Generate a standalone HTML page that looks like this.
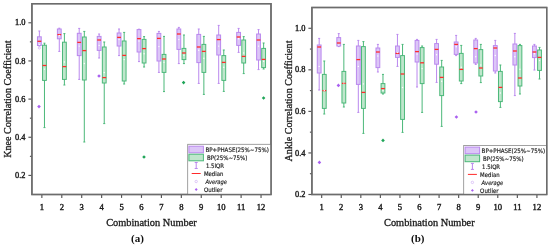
<!DOCTYPE html>
<html><head><meta charset="utf-8"><style>
html,body{margin:0;padding:0;background:#fff;}
svg{display:block;}
.tl{font-family:"Liberation Serif",serif;font-size:8.6px;fill:#1a1a1a;stroke:#1a1a1a;stroke-width:0.4px;}
.ti{font-family:"Liberation Serif",serif;font-size:10.1px;fill:#1a1a1a;stroke:#1a1a1a;stroke-width:0.3px;}
.sub{font-family:"Liberation Serif",serif;font-size:11px;font-weight:bold;fill:#111;}
.lg{font-family:"DejaVu Sans Condensed","DejaVu Sans",sans-serif;font-size:6.1px;fill:#222;stroke:#222;stroke-width:0.16px;}
</style></head><body>
<svg width="550" height="247" viewBox="0 0 550 247">
<rect width="550" height="247" fill="#fff"/>
<line x1="39.36" y1="31" x2="39.36" y2="46" stroke="#ba88ee" stroke-width="1"/>
<line x1="38.36" y1="31" x2="40.36" y2="31" stroke="#ba88ee" stroke-width="1"/>
<line x1="38.36" y1="46" x2="40.36" y2="46" stroke="#ba88ee" stroke-width="1"/>
<rect x="37.46" y="36.8" width="3.8" height="8.7" fill="#dcc6f7" stroke="#ba88ee" stroke-width="1"/>
<line x1="37.46" y1="41.3" x2="41.26" y2="41.3" stroke="#ff2a2a" stroke-width="1.3"/>
<circle cx="39.36" cy="44.6" r="0.7" fill="#fff"/>
<line x1="44.46" y1="43.2" x2="44.46" y2="127.6" stroke="#4bb879" stroke-width="1"/>
<line x1="43.46" y1="43.2" x2="45.46" y2="43.2" stroke="#4bb879" stroke-width="1"/>
<line x1="43.46" y1="127.6" x2="45.46" y2="127.6" stroke="#4bb879" stroke-width="1"/>
<rect x="42.56" y="45.2" width="3.8" height="35.2" fill="#bfe6cc" stroke="#4bb879" stroke-width="1"/>
<line x1="42.56" y1="65.5" x2="46.36" y2="65.5" stroke="#ff2a2a" stroke-width="1.3"/>
<circle cx="44.46" cy="69.1" r="0.7" fill="#fff"/>
<line x1="59.29" y1="28.2" x2="59.29" y2="51.4" stroke="#ba88ee" stroke-width="1"/>
<line x1="58.29" y1="28.2" x2="60.29" y2="28.2" stroke="#ba88ee" stroke-width="1"/>
<line x1="58.29" y1="51.4" x2="60.29" y2="51.4" stroke="#ba88ee" stroke-width="1"/>
<rect x="57.39" y="29" width="3.8" height="9.8" fill="#dcc6f7" stroke="#ba88ee" stroke-width="1"/>
<line x1="57.39" y1="34.6" x2="61.19" y2="34.6" stroke="#ff2a2a" stroke-width="1.3"/>
<circle cx="59.29" cy="35.5" r="0.7" fill="#fff"/>
<line x1="64.39" y1="33.6" x2="64.39" y2="85" stroke="#4bb879" stroke-width="1"/>
<line x1="63.39" y1="33.6" x2="65.39" y2="33.6" stroke="#4bb879" stroke-width="1"/>
<line x1="63.39" y1="85" x2="65.39" y2="85" stroke="#4bb879" stroke-width="1"/>
<rect x="62.49" y="42.2" width="3.8" height="37.2" fill="#bfe6cc" stroke="#4bb879" stroke-width="1"/>
<line x1="62.49" y1="66.6" x2="66.29" y2="66.6" stroke="#ff2a2a" stroke-width="1.3"/>
<circle cx="64.39" cy="62" r="0.7" fill="#fff"/>
<line x1="79.21" y1="28.4" x2="79.21" y2="79.4" stroke="#ba88ee" stroke-width="1"/>
<line x1="78.21" y1="28.4" x2="80.21" y2="28.4" stroke="#ba88ee" stroke-width="1"/>
<line x1="78.21" y1="79.4" x2="80.21" y2="79.4" stroke="#ba88ee" stroke-width="1"/>
<rect x="77.31" y="33.3" width="3.8" height="22.3" fill="#dcc6f7" stroke="#ba88ee" stroke-width="1"/>
<line x1="77.31" y1="42.4" x2="81.11" y2="42.4" stroke="#ff2a2a" stroke-width="1.3"/>
<circle cx="79.21" cy="46.1" r="0.7" fill="#fff"/>
<line x1="84.31" y1="31.4" x2="84.31" y2="142" stroke="#4bb879" stroke-width="1"/>
<line x1="83.31" y1="31.4" x2="85.31" y2="31.4" stroke="#4bb879" stroke-width="1"/>
<line x1="83.31" y1="142" x2="85.31" y2="142" stroke="#4bb879" stroke-width="1"/>
<rect x="82.41" y="37" width="3.8" height="43" fill="#bfe6cc" stroke="#4bb879" stroke-width="1"/>
<line x1="82.41" y1="50.6" x2="86.21" y2="50.6" stroke="#ff2a2a" stroke-width="1.3"/>
<circle cx="84.31" cy="63.5" r="0.7" fill="#fff"/>
<line x1="99.14" y1="34" x2="99.14" y2="58" stroke="#ba88ee" stroke-width="1"/>
<line x1="98.14" y1="34" x2="100.14" y2="34" stroke="#ba88ee" stroke-width="1"/>
<line x1="98.14" y1="58" x2="100.14" y2="58" stroke="#ba88ee" stroke-width="1"/>
<rect x="97.24" y="36.4" width="3.8" height="14" fill="#dcc6f7" stroke="#ba88ee" stroke-width="1"/>
<line x1="97.24" y1="40" x2="101.04" y2="40" stroke="#ff2a2a" stroke-width="1.3"/>
<circle cx="99.14" cy="45.4" r="0.7" fill="#fff"/>
<line x1="104.24" y1="42" x2="104.24" y2="123.6" stroke="#4bb879" stroke-width="1"/>
<line x1="103.24" y1="42" x2="105.24" y2="42" stroke="#4bb879" stroke-width="1"/>
<line x1="103.24" y1="123.6" x2="105.24" y2="123.6" stroke="#4bb879" stroke-width="1"/>
<rect x="102.34" y="47" width="3.8" height="36" fill="#bfe6cc" stroke="#4bb879" stroke-width="1"/>
<line x1="102.34" y1="77.6" x2="106.14" y2="77.6" stroke="#ff2a2a" stroke-width="1.3"/>
<circle cx="104.24" cy="72.5" r="0.7" fill="#fff"/>
<line x1="119.06" y1="29" x2="119.06" y2="55.6" stroke="#ba88ee" stroke-width="1"/>
<line x1="118.06" y1="29" x2="120.06" y2="29" stroke="#ba88ee" stroke-width="1"/>
<line x1="118.06" y1="55.6" x2="120.06" y2="55.6" stroke="#ba88ee" stroke-width="1"/>
<rect x="117.16" y="33" width="3.8" height="13" fill="#dcc6f7" stroke="#ba88ee" stroke-width="1"/>
<line x1="117.16" y1="37.4" x2="120.96" y2="37.4" stroke="#ff2a2a" stroke-width="1.3"/>
<circle cx="119.06" cy="39.6" r="0.7" fill="#fff"/>
<line x1="124.16" y1="32.4" x2="124.16" y2="84" stroke="#4bb879" stroke-width="1"/>
<line x1="123.16" y1="32.4" x2="125.16" y2="32.4" stroke="#4bb879" stroke-width="1"/>
<line x1="123.16" y1="84" x2="125.16" y2="84" stroke="#4bb879" stroke-width="1"/>
<rect x="122.26" y="41" width="3.8" height="40" fill="#bfe6cc" stroke="#4bb879" stroke-width="1"/>
<line x1="122.26" y1="55.4" x2="126.06" y2="55.4" stroke="#ff2a2a" stroke-width="1.3"/>
<circle cx="124.16" cy="59.6" r="0.7" fill="#fff"/>
<line x1="138.99" y1="29.2" x2="138.99" y2="61.6" stroke="#ba88ee" stroke-width="1"/>
<line x1="137.99" y1="29.2" x2="139.99" y2="29.2" stroke="#ba88ee" stroke-width="1"/>
<line x1="137.99" y1="61.6" x2="139.99" y2="61.6" stroke="#ba88ee" stroke-width="1"/>
<rect x="137.09" y="29.6" width="3.8" height="22.4" fill="#dcc6f7" stroke="#ba88ee" stroke-width="1"/>
<line x1="137.09" y1="38.6" x2="140.89" y2="38.6" stroke="#ff2a2a" stroke-width="1.3"/>
<circle cx="138.99" cy="41" r="0.7" fill="#fff"/>
<line x1="144.09" y1="36.6" x2="144.09" y2="67" stroke="#4bb879" stroke-width="1"/>
<line x1="143.09" y1="36.6" x2="145.09" y2="36.6" stroke="#4bb879" stroke-width="1"/>
<line x1="143.09" y1="67" x2="145.09" y2="67" stroke="#4bb879" stroke-width="1"/>
<rect x="142.19" y="39.4" width="3.8" height="23.6" fill="#bfe6cc" stroke="#4bb879" stroke-width="1"/>
<line x1="142.19" y1="48.6" x2="145.99" y2="48.6" stroke="#ff2a2a" stroke-width="1.3"/>
<circle cx="144.09" cy="53.7" r="0.7" fill="#fff"/>
<line x1="158.91" y1="31.4" x2="158.91" y2="72.4" stroke="#ba88ee" stroke-width="1"/>
<line x1="157.91" y1="31.4" x2="159.91" y2="31.4" stroke="#ba88ee" stroke-width="1"/>
<line x1="157.91" y1="72.4" x2="159.91" y2="72.4" stroke="#ba88ee" stroke-width="1"/>
<rect x="157.01" y="33.4" width="3.8" height="27.6" fill="#dcc6f7" stroke="#ba88ee" stroke-width="1"/>
<line x1="157.01" y1="38.4" x2="160.81" y2="38.4" stroke="#ff2a2a" stroke-width="1.3"/>
<circle cx="158.91" cy="46.6" r="0.7" fill="#fff"/>
<line x1="164.01" y1="36.4" x2="164.01" y2="91.6" stroke="#4bb879" stroke-width="1"/>
<line x1="163.01" y1="36.4" x2="165.01" y2="36.4" stroke="#4bb879" stroke-width="1"/>
<line x1="163.01" y1="91.6" x2="165.01" y2="91.6" stroke="#4bb879" stroke-width="1"/>
<rect x="162.11" y="54.4" width="3.8" height="18" fill="#bfe6cc" stroke="#4bb879" stroke-width="1"/>
<line x1="162.11" y1="59" x2="165.91" y2="59" stroke="#ff2a2a" stroke-width="1.3"/>
<circle cx="164.01" cy="62.2" r="0.7" fill="#fff"/>
<line x1="178.84" y1="27.4" x2="178.84" y2="63.6" stroke="#ba88ee" stroke-width="1"/>
<line x1="177.84" y1="27.4" x2="179.84" y2="27.4" stroke="#ba88ee" stroke-width="1"/>
<line x1="177.84" y1="63.6" x2="179.84" y2="63.6" stroke="#ba88ee" stroke-width="1"/>
<rect x="176.94" y="29" width="3.8" height="20.4" fill="#dcc6f7" stroke="#ba88ee" stroke-width="1"/>
<line x1="176.94" y1="34" x2="180.74" y2="34" stroke="#ff2a2a" stroke-width="1.3"/>
<circle cx="178.84" cy="39.6" r="0.7" fill="#fff"/>
<line x1="183.94" y1="35" x2="183.94" y2="63.6" stroke="#4bb879" stroke-width="1"/>
<line x1="182.94" y1="35" x2="184.94" y2="35" stroke="#4bb879" stroke-width="1"/>
<line x1="182.94" y1="63.6" x2="184.94" y2="63.6" stroke="#4bb879" stroke-width="1"/>
<rect x="182.04" y="48.4" width="3.8" height="11.2" fill="#bfe6cc" stroke="#4bb879" stroke-width="1"/>
<line x1="182.04" y1="53" x2="185.84" y2="53" stroke="#ff2a2a" stroke-width="1.3"/>
<circle cx="183.94" cy="55.2" r="0.7" fill="#fff"/>
<line x1="198.76" y1="29" x2="198.76" y2="83.4" stroke="#ba88ee" stroke-width="1"/>
<line x1="197.76" y1="29" x2="199.76" y2="29" stroke="#ba88ee" stroke-width="1"/>
<line x1="197.76" y1="83.4" x2="199.76" y2="83.4" stroke="#ba88ee" stroke-width="1"/>
<rect x="196.86" y="34.4" width="3.8" height="28.2" fill="#dcc6f7" stroke="#ba88ee" stroke-width="1"/>
<line x1="196.86" y1="47" x2="200.66" y2="47" stroke="#ff2a2a" stroke-width="1.3"/>
<circle cx="198.76" cy="50.3" r="0.7" fill="#fff"/>
<line x1="203.86" y1="36.4" x2="203.86" y2="94.4" stroke="#4bb879" stroke-width="1"/>
<line x1="202.86" y1="36.4" x2="204.86" y2="36.4" stroke="#4bb879" stroke-width="1"/>
<line x1="202.86" y1="94.4" x2="204.86" y2="94.4" stroke="#4bb879" stroke-width="1"/>
<rect x="201.96" y="44.4" width="3.8" height="28" fill="#bfe6cc" stroke="#4bb879" stroke-width="1"/>
<line x1="201.96" y1="51.4" x2="205.76" y2="51.4" stroke="#ff2a2a" stroke-width="1.3"/>
<circle cx="203.86" cy="58.3" r="0.7" fill="#fff"/>
<line x1="218.69" y1="25.4" x2="218.69" y2="83.4" stroke="#ba88ee" stroke-width="1"/>
<line x1="217.69" y1="25.4" x2="219.69" y2="25.4" stroke="#ba88ee" stroke-width="1"/>
<line x1="217.69" y1="83.4" x2="219.69" y2="83.4" stroke="#ba88ee" stroke-width="1"/>
<rect x="216.79" y="35" width="3.8" height="20" fill="#dcc6f7" stroke="#ba88ee" stroke-width="1"/>
<line x1="216.79" y1="39.6" x2="220.59" y2="39.6" stroke="#ff2a2a" stroke-width="1.3"/>
<circle cx="218.69" cy="46.1" r="0.7" fill="#fff"/>
<line x1="223.79" y1="50" x2="223.79" y2="91.4" stroke="#4bb879" stroke-width="1"/>
<line x1="222.79" y1="50" x2="224.79" y2="50" stroke="#4bb879" stroke-width="1"/>
<line x1="222.79" y1="91.4" x2="224.79" y2="91.4" stroke="#4bb879" stroke-width="1"/>
<rect x="221.89" y="55.6" width="3.8" height="24.8" fill="#bfe6cc" stroke="#4bb879" stroke-width="1"/>
<line x1="221.89" y1="62.4" x2="225.69" y2="62.4" stroke="#ff2a2a" stroke-width="1.3"/>
<circle cx="223.79" cy="67.2" r="0.7" fill="#fff"/>
<line x1="238.61" y1="28.4" x2="238.61" y2="52.4" stroke="#ba88ee" stroke-width="1"/>
<line x1="237.61" y1="28.4" x2="239.61" y2="28.4" stroke="#ba88ee" stroke-width="1"/>
<line x1="237.61" y1="52.4" x2="239.61" y2="52.4" stroke="#ba88ee" stroke-width="1"/>
<rect x="236.71" y="32.4" width="3.8" height="13" fill="#dcc6f7" stroke="#ba88ee" stroke-width="1"/>
<line x1="236.71" y1="37" x2="240.51" y2="37" stroke="#ff2a2a" stroke-width="1.3"/>
<circle cx="238.61" cy="38.8" r="0.7" fill="#fff"/>
<line x1="243.71" y1="36.6" x2="243.71" y2="73.6" stroke="#4bb879" stroke-width="1"/>
<line x1="242.71" y1="36.6" x2="244.71" y2="36.6" stroke="#4bb879" stroke-width="1"/>
<line x1="242.71" y1="73.6" x2="244.71" y2="73.6" stroke="#4bb879" stroke-width="1"/>
<rect x="241.81" y="40" width="3.8" height="23" fill="#bfe6cc" stroke="#4bb879" stroke-width="1"/>
<line x1="241.81" y1="56.4" x2="245.61" y2="56.4" stroke="#ff2a2a" stroke-width="1.3"/>
<circle cx="243.71" cy="53" r="0.7" fill="#fff"/>
<line x1="258.54" y1="29.6" x2="258.54" y2="69.6" stroke="#ba88ee" stroke-width="1"/>
<line x1="257.54" y1="29.6" x2="259.54" y2="29.6" stroke="#ba88ee" stroke-width="1"/>
<line x1="257.54" y1="69.6" x2="259.54" y2="69.6" stroke="#ba88ee" stroke-width="1"/>
<rect x="256.64" y="34" width="3.8" height="26" fill="#dcc6f7" stroke="#ba88ee" stroke-width="1"/>
<line x1="256.64" y1="40" x2="260.44" y2="40" stroke="#ff2a2a" stroke-width="1.3"/>
<circle cx="258.54" cy="46.1" r="0.7" fill="#fff"/>
<line x1="263.64" y1="43" x2="263.64" y2="69" stroke="#4bb879" stroke-width="1"/>
<line x1="262.64" y1="43" x2="264.64" y2="43" stroke="#4bb879" stroke-width="1"/>
<line x1="262.64" y1="69" x2="264.64" y2="69" stroke="#4bb879" stroke-width="1"/>
<rect x="261.74" y="48.4" width="3.8" height="19.2" fill="#bfe6cc" stroke="#4bb879" stroke-width="1"/>
<line x1="261.74" y1="59.4" x2="265.54" y2="59.4" stroke="#ff2a2a" stroke-width="1.3"/>
<circle cx="263.64" cy="61.3" r="0.7" fill="#fff"/>
<polygon points="39,104.8 40.8,106.6 39,108.4 37.2,106.6" fill="#a95ff0"/>
<polygon points="99,74.2 100.8,76 99,77.8 97.2,76" fill="#a95ff0"/>
<polygon points="144,155.2 145.8,157 144,158.8 142.2,157" fill="#1fa558"/>
<polygon points="183.6,80.8 185.4,82.6 183.6,84.4 181.8,82.6" fill="#1fa558"/>
<polygon points="263.6,96.2 265.4,98 263.6,99.8 261.8,98" fill="#1fa558"/>
<rect x="31.9" y="3.7" width="239.1" height="190.8" fill="none" stroke="#6c6c6c" stroke-width="1.4"/>
<line x1="28.4" y1="175.42" x2="31.9" y2="175.42" stroke="#555555" stroke-width="1.15"/>
<text x="25.5" y="178.07" text-anchor="end" class="tl" textLength="10.5" lengthAdjust="spacingAndGlyphs">0.2</text>
<line x1="28.4" y1="137.26" x2="31.9" y2="137.26" stroke="#555555" stroke-width="1.15"/>
<text x="25.5" y="139.91" text-anchor="end" class="tl" textLength="10.5" lengthAdjust="spacingAndGlyphs">0.4</text>
<line x1="28.4" y1="99.1" x2="31.9" y2="99.1" stroke="#555555" stroke-width="1.15"/>
<text x="25.5" y="101.75" text-anchor="end" class="tl" textLength="10.5" lengthAdjust="spacingAndGlyphs">0.6</text>
<line x1="28.4" y1="60.94" x2="31.9" y2="60.94" stroke="#555555" stroke-width="1.15"/>
<text x="25.5" y="63.59" text-anchor="end" class="tl" textLength="10.5" lengthAdjust="spacingAndGlyphs">0.8</text>
<line x1="28.4" y1="22.78" x2="31.9" y2="22.78" stroke="#555555" stroke-width="1.15"/>
<text x="25.5" y="25.43" text-anchor="end" class="tl" textLength="10.5" lengthAdjust="spacingAndGlyphs">1.0</text>
<line x1="29.9" y1="156.34" x2="31.9" y2="156.34" stroke="#555555" stroke-width="1.15"/>
<line x1="29.9" y1="118.18" x2="31.9" y2="118.18" stroke="#555555" stroke-width="1.15"/>
<line x1="29.9" y1="80.02" x2="31.9" y2="80.02" stroke="#555555" stroke-width="1.15"/>
<line x1="29.9" y1="41.86" x2="31.9" y2="41.86" stroke="#555555" stroke-width="1.15"/>
<line x1="41.86" y1="194.5" x2="41.86" y2="197.9" stroke="#555555" stroke-width="1.15"/>
<text x="41.86" y="209.9" text-anchor="middle" class="tl">1</text>
<line x1="61.79" y1="194.5" x2="61.79" y2="197.9" stroke="#555555" stroke-width="1.15"/>
<text x="61.79" y="209.9" text-anchor="middle" class="tl">2</text>
<line x1="81.71" y1="194.5" x2="81.71" y2="197.9" stroke="#555555" stroke-width="1.15"/>
<text x="81.71" y="209.9" text-anchor="middle" class="tl">3</text>
<line x1="101.64" y1="194.5" x2="101.64" y2="197.9" stroke="#555555" stroke-width="1.15"/>
<text x="101.64" y="209.9" text-anchor="middle" class="tl">4</text>
<line x1="121.56" y1="194.5" x2="121.56" y2="197.9" stroke="#555555" stroke-width="1.15"/>
<text x="121.56" y="209.9" text-anchor="middle" class="tl">5</text>
<line x1="141.49" y1="194.5" x2="141.49" y2="197.9" stroke="#555555" stroke-width="1.15"/>
<text x="141.49" y="209.9" text-anchor="middle" class="tl">6</text>
<line x1="161.41" y1="194.5" x2="161.41" y2="197.9" stroke="#555555" stroke-width="1.15"/>
<text x="161.41" y="209.9" text-anchor="middle" class="tl">7</text>
<line x1="181.34" y1="194.5" x2="181.34" y2="197.9" stroke="#555555" stroke-width="1.15"/>
<text x="181.34" y="209.9" text-anchor="middle" class="tl">8</text>
<line x1="201.26" y1="194.5" x2="201.26" y2="197.9" stroke="#555555" stroke-width="1.15"/>
<text x="201.26" y="209.9" text-anchor="middle" class="tl">9</text>
<line x1="221.19" y1="194.5" x2="221.19" y2="197.9" stroke="#555555" stroke-width="1.15"/>
<text x="221.19" y="209.9" text-anchor="middle" class="tl">10</text>
<line x1="241.11" y1="194.5" x2="241.11" y2="197.9" stroke="#555555" stroke-width="1.15"/>
<text x="241.11" y="209.9" text-anchor="middle" class="tl">11</text>
<line x1="261.04" y1="194.5" x2="261.04" y2="197.9" stroke="#555555" stroke-width="1.15"/>
<text x="261.04" y="209.9" text-anchor="middle" class="tl">12</text>
<text x="151.45" y="225.5" text-anchor="middle" class="ti" textLength="90.6" lengthAdjust="spacingAndGlyphs">Combination Number</text>
<text x="137.5" y="242.4" text-anchor="middle" class="sub">(a)</text>
<text transform="translate(11,99.1) rotate(-90)" text-anchor="middle" class="ti">Knee Correlation Coefficient</text>
<circle cx="39.3" cy="48" r="1.1" fill="#fff" stroke="#ba88ee" stroke-width="0.6" opacity="0.8"/>
<rect x="187.7" y="144.3" width="83.3" height="50.2" fill="#fff" stroke="#8a8a8a" stroke-width="0.8"/>
<rect x="188.9" y="146.2" width="14.5" height="6.6" fill="#dcc6f7" stroke="#ba88ee" stroke-width="1"/>
<rect x="188.9" y="154.2" width="14.5" height="6.6" fill="#bfe6cc" stroke="#4bb879" stroke-width="1"/>
<line x1="196.2" y1="162.5" x2="196.2" y2="168.5" stroke="#ba88ee" stroke-width="1"/>
<line x1="194.7" y1="162.5" x2="197.7" y2="162.5" stroke="#ba88ee" stroke-width="1"/>
<line x1="194.7" y1="168.5" x2="197.7" y2="168.5" stroke="#ba88ee" stroke-width="1"/>
<line x1="191.7" y1="173.5" x2="200.7" y2="173.5" stroke="#ff2a2a" stroke-width="1"/>
<circle cx="196.2" cy="181.5" r="1.2" fill="none" stroke="#c9a6f2" stroke-width="0.6"/>
<polygon points="196.2,188.05 197.65,189.5 196.2,190.95 194.75,189.5" fill="#a95ff0"/>
<text x="205.4" y="151.8" class="lg" textLength="63.5" lengthAdjust="spacingAndGlyphs">BP+PHASE(25%~75%)</text>
<text x="206.9" y="159.8" class="lg" textLength="40.5" lengthAdjust="spacingAndGlyphs">BP(25%~75%)</text>
<text x="205.9" y="167.8" class="lg" textLength="18" lengthAdjust="spacingAndGlyphs">1.5IQR</text>
<text x="203.9" y="175.8" class="lg" textLength="19.5" lengthAdjust="spacingAndGlyphs">Median</text>
<text x="205.4" y="183.8" class="lg" font-style="italic" textLength="21.5" lengthAdjust="spacingAndGlyphs">Average</text>
<text x="203.9" y="191.8" class="lg" textLength="18.5" lengthAdjust="spacingAndGlyphs">Outlier</text>
<line x1="319.18" y1="38.4" x2="319.18" y2="90" stroke="#ba88ee" stroke-width="1"/>
<line x1="318.18" y1="38.4" x2="320.18" y2="38.4" stroke="#ba88ee" stroke-width="1"/>
<line x1="318.18" y1="90" x2="320.18" y2="90" stroke="#ba88ee" stroke-width="1"/>
<rect x="317.28" y="45" width="3.8" height="28" fill="#dcc6f7" stroke="#ba88ee" stroke-width="1"/>
<line x1="317.28" y1="47" x2="321.08" y2="47" stroke="#ff2a2a" stroke-width="1.3"/>
<circle cx="319.18" cy="66.4" r="0.7" fill="#fff"/>
<line x1="324.28" y1="61" x2="324.28" y2="114" stroke="#4bb879" stroke-width="1"/>
<line x1="323.28" y1="61" x2="325.28" y2="61" stroke="#4bb879" stroke-width="1"/>
<line x1="323.28" y1="114" x2="325.28" y2="114" stroke="#4bb879" stroke-width="1"/>
<rect x="322.38" y="74.4" width="3.8" height="34" fill="#bfe6cc" stroke="#4bb879" stroke-width="1"/>
<line x1="322.38" y1="90.6" x2="326.18" y2="90.6" stroke="#ff2a2a" stroke-width="1.3"/>
<circle cx="324.28" cy="90.4" r="0.7" fill="#fff"/>
<line x1="338.75" y1="33.6" x2="338.75" y2="46.6" stroke="#ba88ee" stroke-width="1"/>
<line x1="337.75" y1="33.6" x2="339.75" y2="33.6" stroke="#ba88ee" stroke-width="1"/>
<line x1="337.75" y1="46.6" x2="339.75" y2="46.6" stroke="#ba88ee" stroke-width="1"/>
<rect x="336.85" y="37.6" width="3.8" height="8.4" fill="#dcc6f7" stroke="#ba88ee" stroke-width="1"/>
<line x1="336.85" y1="43" x2="340.65" y2="43" stroke="#ff2a2a" stroke-width="1.3"/>
<circle cx="338.75" cy="45.1" r="0.7" fill="#fff"/>
<line x1="343.85" y1="44.4" x2="343.85" y2="107" stroke="#4bb879" stroke-width="1"/>
<line x1="342.85" y1="44.4" x2="344.85" y2="44.4" stroke="#4bb879" stroke-width="1"/>
<line x1="342.85" y1="107" x2="344.85" y2="107" stroke="#4bb879" stroke-width="1"/>
<rect x="341.95" y="71.4" width="3.8" height="31.6" fill="#bfe6cc" stroke="#4bb879" stroke-width="1"/>
<line x1="341.95" y1="83.4" x2="345.75" y2="83.4" stroke="#ff2a2a" stroke-width="1.3"/>
<circle cx="343.85" cy="83.1" r="0.7" fill="#fff"/>
<line x1="358.32" y1="40.4" x2="358.32" y2="112.4" stroke="#ba88ee" stroke-width="1"/>
<line x1="357.32" y1="40.4" x2="359.32" y2="40.4" stroke="#ba88ee" stroke-width="1"/>
<line x1="357.32" y1="112.4" x2="359.32" y2="112.4" stroke="#ba88ee" stroke-width="1"/>
<rect x="356.42" y="46" width="3.8" height="38.4" fill="#dcc6f7" stroke="#ba88ee" stroke-width="1"/>
<line x1="356.42" y1="59.6" x2="360.22" y2="59.6" stroke="#ff2a2a" stroke-width="1.3"/>
<circle cx="358.32" cy="66.4" r="0.7" fill="#fff"/>
<line x1="363.42" y1="41.6" x2="363.42" y2="133.4" stroke="#4bb879" stroke-width="1"/>
<line x1="362.42" y1="41.6" x2="364.42" y2="41.6" stroke="#4bb879" stroke-width="1"/>
<line x1="362.42" y1="133.4" x2="364.42" y2="133.4" stroke="#4bb879" stroke-width="1"/>
<rect x="361.52" y="46.6" width="3.8" height="61.8" fill="#bfe6cc" stroke="#4bb879" stroke-width="1"/>
<line x1="361.52" y1="92.4" x2="365.32" y2="92.4" stroke="#ff2a2a" stroke-width="1.3"/>
<circle cx="363.42" cy="83.9" r="0.7" fill="#fff"/>
<line x1="377.88" y1="44.4" x2="377.88" y2="72" stroke="#ba88ee" stroke-width="1"/>
<line x1="376.88" y1="44.4" x2="378.88" y2="44.4" stroke="#ba88ee" stroke-width="1"/>
<line x1="376.88" y1="72" x2="378.88" y2="72" stroke="#ba88ee" stroke-width="1"/>
<rect x="375.98" y="48" width="3.8" height="19.6" fill="#dcc6f7" stroke="#ba88ee" stroke-width="1"/>
<line x1="375.98" y1="52" x2="379.78" y2="52" stroke="#ff2a2a" stroke-width="1.3"/>
<circle cx="377.88" cy="56" r="0.7" fill="#fff"/>
<line x1="382.98" y1="74.4" x2="382.98" y2="94" stroke="#4bb879" stroke-width="1"/>
<line x1="381.98" y1="74.4" x2="383.98" y2="74.4" stroke="#4bb879" stroke-width="1"/>
<line x1="381.98" y1="94" x2="383.98" y2="94" stroke="#4bb879" stroke-width="1"/>
<rect x="381.08" y="83.6" width="3.8" height="9.4" fill="#bfe6cc" stroke="#4bb879" stroke-width="1"/>
<line x1="381.08" y1="88.6" x2="384.88" y2="88.6" stroke="#ff2a2a" stroke-width="1.3"/>
<circle cx="382.98" cy="90.4" r="0.7" fill="#fff"/>
<line x1="397.45" y1="34.4" x2="397.45" y2="66.4" stroke="#ba88ee" stroke-width="1"/>
<line x1="396.45" y1="34.4" x2="398.45" y2="34.4" stroke="#ba88ee" stroke-width="1"/>
<line x1="396.45" y1="66.4" x2="398.45" y2="66.4" stroke="#ba88ee" stroke-width="1"/>
<rect x="395.55" y="46" width="3.8" height="11.4" fill="#dcc6f7" stroke="#ba88ee" stroke-width="1"/>
<line x1="395.55" y1="53.4" x2="399.35" y2="53.4" stroke="#ff2a2a" stroke-width="1.3"/>
<circle cx="397.45" cy="52.6" r="0.7" fill="#fff"/>
<line x1="402.55" y1="44.4" x2="402.55" y2="132.4" stroke="#4bb879" stroke-width="1"/>
<line x1="401.55" y1="44.4" x2="403.55" y2="44.4" stroke="#4bb879" stroke-width="1"/>
<line x1="401.55" y1="132.4" x2="403.55" y2="132.4" stroke="#4bb879" stroke-width="1"/>
<rect x="400.65" y="55.6" width="3.8" height="63.8" fill="#bfe6cc" stroke="#4bb879" stroke-width="1"/>
<line x1="400.65" y1="74" x2="404.45" y2="74" stroke="#ff2a2a" stroke-width="1.3"/>
<circle cx="402.55" cy="87.5" r="0.7" fill="#fff"/>
<line x1="417.02" y1="39.4" x2="417.02" y2="87" stroke="#ba88ee" stroke-width="1"/>
<line x1="416.02" y1="39.4" x2="418.02" y2="39.4" stroke="#ba88ee" stroke-width="1"/>
<line x1="416.02" y1="87" x2="418.02" y2="87" stroke="#ba88ee" stroke-width="1"/>
<rect x="415.12" y="40.4" width="3.8" height="21.6" fill="#dcc6f7" stroke="#ba88ee" stroke-width="1"/>
<line x1="415.12" y1="51.6" x2="418.92" y2="51.6" stroke="#ff2a2a" stroke-width="1.3"/>
<circle cx="417.02" cy="54" r="0.7" fill="#fff"/>
<line x1="422.12" y1="46" x2="422.12" y2="112.4" stroke="#4bb879" stroke-width="1"/>
<line x1="421.12" y1="46" x2="423.12" y2="46" stroke="#4bb879" stroke-width="1"/>
<line x1="421.12" y1="112.4" x2="423.12" y2="112.4" stroke="#4bb879" stroke-width="1"/>
<rect x="420.22" y="47.6" width="3.8" height="36" fill="#bfe6cc" stroke="#4bb879" stroke-width="1"/>
<line x1="420.22" y1="62.8" x2="424.02" y2="62.8" stroke="#ff2a2a" stroke-width="1.3"/>
<circle cx="422.12" cy="68.6" r="0.7" fill="#fff"/>
<line x1="436.58" y1="39.4" x2="436.58" y2="82.4" stroke="#ba88ee" stroke-width="1"/>
<line x1="435.58" y1="39.4" x2="437.58" y2="39.4" stroke="#ba88ee" stroke-width="1"/>
<line x1="435.58" y1="82.4" x2="437.58" y2="82.4" stroke="#ba88ee" stroke-width="1"/>
<rect x="434.68" y="43.6" width="3.8" height="20.6" fill="#dcc6f7" stroke="#ba88ee" stroke-width="1"/>
<line x1="434.68" y1="49.4" x2="438.48" y2="49.4" stroke="#ff2a2a" stroke-width="1.3"/>
<circle cx="436.58" cy="54.8" r="0.7" fill="#fff"/>
<line x1="441.68" y1="60.4" x2="441.68" y2="126.4" stroke="#4bb879" stroke-width="1"/>
<line x1="440.68" y1="60.4" x2="442.68" y2="60.4" stroke="#4bb879" stroke-width="1"/>
<line x1="440.68" y1="126.4" x2="442.68" y2="126.4" stroke="#4bb879" stroke-width="1"/>
<rect x="439.78" y="67" width="3.8" height="28.6" fill="#bfe6cc" stroke="#4bb879" stroke-width="1"/>
<line x1="439.78" y1="77.4" x2="443.58" y2="77.4" stroke="#ff2a2a" stroke-width="1.3"/>
<circle cx="441.68" cy="81.3" r="0.7" fill="#fff"/>
<line x1="456.15" y1="35.4" x2="456.15" y2="55.6" stroke="#ba88ee" stroke-width="1"/>
<line x1="455.15" y1="35.4" x2="457.15" y2="35.4" stroke="#ba88ee" stroke-width="1"/>
<line x1="455.15" y1="55.6" x2="457.15" y2="55.6" stroke="#ba88ee" stroke-width="1"/>
<rect x="454.25" y="42" width="3.8" height="12.4" fill="#dcc6f7" stroke="#ba88ee" stroke-width="1"/>
<line x1="454.25" y1="44.4" x2="458.05" y2="44.4" stroke="#ff2a2a" stroke-width="1.3"/>
<circle cx="456.15" cy="46.7" r="0.7" fill="#fff"/>
<line x1="461.25" y1="45.4" x2="461.25" y2="83.6" stroke="#4bb879" stroke-width="1"/>
<line x1="460.25" y1="45.4" x2="462.25" y2="45.4" stroke="#4bb879" stroke-width="1"/>
<line x1="460.25" y1="83.6" x2="462.25" y2="83.6" stroke="#4bb879" stroke-width="1"/>
<rect x="459.35" y="53.4" width="3.8" height="27.6" fill="#bfe6cc" stroke="#4bb879" stroke-width="1"/>
<line x1="459.35" y1="69.4" x2="463.15" y2="69.4" stroke="#ff2a2a" stroke-width="1.3"/>
<circle cx="461.25" cy="67.2" r="0.7" fill="#fff"/>
<line x1="475.72" y1="38.4" x2="475.72" y2="64.4" stroke="#ba88ee" stroke-width="1"/>
<line x1="474.72" y1="38.4" x2="476.72" y2="38.4" stroke="#ba88ee" stroke-width="1"/>
<line x1="474.72" y1="64.4" x2="476.72" y2="64.4" stroke="#ba88ee" stroke-width="1"/>
<rect x="473.82" y="40" width="3.8" height="23" fill="#dcc6f7" stroke="#ba88ee" stroke-width="1"/>
<line x1="473.82" y1="48.6" x2="477.62" y2="48.6" stroke="#ff2a2a" stroke-width="1.3"/>
<circle cx="475.72" cy="56.7" r="0.7" fill="#fff"/>
<line x1="480.82" y1="44.4" x2="480.82" y2="82.6" stroke="#4bb879" stroke-width="1"/>
<line x1="479.82" y1="44.4" x2="481.82" y2="44.4" stroke="#4bb879" stroke-width="1"/>
<line x1="479.82" y1="82.6" x2="481.82" y2="82.6" stroke="#4bb879" stroke-width="1"/>
<rect x="478.92" y="49.6" width="3.8" height="26.4" fill="#bfe6cc" stroke="#4bb879" stroke-width="1"/>
<line x1="478.92" y1="68" x2="482.72" y2="68" stroke="#ff2a2a" stroke-width="1.3"/>
<circle cx="480.82" cy="65" r="0.7" fill="#fff"/>
<line x1="495.28" y1="40.4" x2="495.28" y2="73" stroke="#ba88ee" stroke-width="1"/>
<line x1="494.28" y1="40.4" x2="496.28" y2="40.4" stroke="#ba88ee" stroke-width="1"/>
<line x1="494.28" y1="73" x2="496.28" y2="73" stroke="#ba88ee" stroke-width="1"/>
<rect x="493.38" y="45.6" width="3.8" height="25.4" fill="#dcc6f7" stroke="#ba88ee" stroke-width="1"/>
<line x1="493.38" y1="48" x2="497.18" y2="48" stroke="#ff2a2a" stroke-width="1.3"/>
<circle cx="495.28" cy="55.5" r="0.7" fill="#fff"/>
<line x1="500.38" y1="65" x2="500.38" y2="107.4" stroke="#4bb879" stroke-width="1"/>
<line x1="499.38" y1="65" x2="501.38" y2="65" stroke="#4bb879" stroke-width="1"/>
<line x1="499.38" y1="107.4" x2="501.38" y2="107.4" stroke="#4bb879" stroke-width="1"/>
<rect x="498.48" y="71.4" width="3.8" height="30.2" fill="#bfe6cc" stroke="#4bb879" stroke-width="1"/>
<line x1="498.48" y1="87.4" x2="502.28" y2="87.4" stroke="#ff2a2a" stroke-width="1.3"/>
<circle cx="500.38" cy="93" r="0.7" fill="#fff"/>
<line x1="514.85" y1="33.4" x2="514.85" y2="95.6" stroke="#ba88ee" stroke-width="1"/>
<line x1="513.85" y1="33.4" x2="515.85" y2="33.4" stroke="#ba88ee" stroke-width="1"/>
<line x1="513.85" y1="95.6" x2="515.85" y2="95.6" stroke="#ba88ee" stroke-width="1"/>
<rect x="512.95" y="44" width="3.8" height="21" fill="#dcc6f7" stroke="#ba88ee" stroke-width="1"/>
<line x1="512.95" y1="51" x2="516.75" y2="51" stroke="#ff2a2a" stroke-width="1.3"/>
<circle cx="514.85" cy="56.7" r="0.7" fill="#fff"/>
<line x1="519.95" y1="44.4" x2="519.95" y2="94" stroke="#4bb879" stroke-width="1"/>
<line x1="518.95" y1="44.4" x2="520.95" y2="44.4" stroke="#4bb879" stroke-width="1"/>
<line x1="518.95" y1="94" x2="520.95" y2="94" stroke="#4bb879" stroke-width="1"/>
<rect x="518.05" y="45.6" width="3.8" height="40.4" fill="#bfe6cc" stroke="#4bb879" stroke-width="1"/>
<line x1="518.05" y1="78" x2="521.85" y2="78" stroke="#ff2a2a" stroke-width="1.3"/>
<circle cx="519.95" cy="69.3" r="0.7" fill="#fff"/>
<line x1="534.42" y1="44.4" x2="534.42" y2="70" stroke="#ba88ee" stroke-width="1"/>
<line x1="533.42" y1="44.4" x2="535.42" y2="44.4" stroke="#ba88ee" stroke-width="1"/>
<line x1="533.42" y1="70" x2="535.42" y2="70" stroke="#ba88ee" stroke-width="1"/>
<rect x="532.52" y="46" width="3.8" height="11.6" fill="#dcc6f7" stroke="#ba88ee" stroke-width="1"/>
<line x1="532.52" y1="52" x2="536.32" y2="52" stroke="#ff2a2a" stroke-width="1.3"/>
<circle cx="534.42" cy="53.7" r="0.7" fill="#fff"/>
<line x1="539.52" y1="47.4" x2="539.52" y2="79" stroke="#4bb879" stroke-width="1"/>
<line x1="538.52" y1="47.4" x2="540.52" y2="47.4" stroke="#4bb879" stroke-width="1"/>
<line x1="538.52" y1="79" x2="540.52" y2="79" stroke="#4bb879" stroke-width="1"/>
<rect x="537.62" y="50" width="3.8" height="20.4" fill="#bfe6cc" stroke="#4bb879" stroke-width="1"/>
<line x1="537.62" y1="57.4" x2="541.42" y2="57.4" stroke="#ff2a2a" stroke-width="1.3"/>
<circle cx="539.52" cy="60.6" r="0.7" fill="#fff"/>
<polygon points="319.4,160.6 321.2,162.4 319.4,164.2 317.6,162.4" fill="#a95ff0"/>
<polygon points="338.4,83.6 340.2,85.4 338.4,87.2 336.6,85.4" fill="#a95ff0"/>
<polygon points="383,138.6 384.8,140.4 383,142.2 381.2,140.4" fill="#1fa558"/>
<polygon points="456.4,115.2 458.2,117 456.4,118.8 454.6,117" fill="#a95ff0"/>
<polygon points="476,110.2 477.8,112 476,113.8 474.2,112" fill="#a95ff0"/>
<rect x="311.9" y="7.5" width="234.8" height="187" fill="none" stroke="#6c6c6c" stroke-width="1.4"/>
<line x1="308.4" y1="194.5" x2="311.9" y2="194.5" stroke="#555555" stroke-width="1.15"/>
<text x="305.5" y="197.15" text-anchor="end" class="tl" textLength="10.5" lengthAdjust="spacingAndGlyphs">0.2</text>
<line x1="308.4" y1="152.94" x2="311.9" y2="152.94" stroke="#555555" stroke-width="1.15"/>
<text x="305.5" y="155.59" text-anchor="end" class="tl" textLength="10.5" lengthAdjust="spacingAndGlyphs">0.4</text>
<line x1="308.4" y1="111.39" x2="311.9" y2="111.39" stroke="#555555" stroke-width="1.15"/>
<text x="305.5" y="114.04" text-anchor="end" class="tl" textLength="10.5" lengthAdjust="spacingAndGlyphs">0.6</text>
<line x1="308.4" y1="69.83" x2="311.9" y2="69.83" stroke="#555555" stroke-width="1.15"/>
<text x="305.5" y="72.48" text-anchor="end" class="tl" textLength="10.5" lengthAdjust="spacingAndGlyphs">0.8</text>
<line x1="308.4" y1="28.28" x2="311.9" y2="28.28" stroke="#555555" stroke-width="1.15"/>
<text x="305.5" y="30.93" text-anchor="end" class="tl" textLength="10.5" lengthAdjust="spacingAndGlyphs">1.0</text>
<line x1="309.9" y1="173.72" x2="311.9" y2="173.72" stroke="#555555" stroke-width="1.15"/>
<line x1="309.9" y1="132.17" x2="311.9" y2="132.17" stroke="#555555" stroke-width="1.15"/>
<line x1="309.9" y1="90.61" x2="311.9" y2="90.61" stroke="#555555" stroke-width="1.15"/>
<line x1="309.9" y1="49.06" x2="311.9" y2="49.06" stroke="#555555" stroke-width="1.15"/>
<line x1="321.68" y1="194.5" x2="321.68" y2="197.9" stroke="#555555" stroke-width="1.15"/>
<text x="321.68" y="209.9" text-anchor="middle" class="tl">1</text>
<line x1="341.25" y1="194.5" x2="341.25" y2="197.9" stroke="#555555" stroke-width="1.15"/>
<text x="341.25" y="209.9" text-anchor="middle" class="tl">2</text>
<line x1="360.82" y1="194.5" x2="360.82" y2="197.9" stroke="#555555" stroke-width="1.15"/>
<text x="360.82" y="209.9" text-anchor="middle" class="tl">3</text>
<line x1="380.38" y1="194.5" x2="380.38" y2="197.9" stroke="#555555" stroke-width="1.15"/>
<text x="380.38" y="209.9" text-anchor="middle" class="tl">4</text>
<line x1="399.95" y1="194.5" x2="399.95" y2="197.9" stroke="#555555" stroke-width="1.15"/>
<text x="399.95" y="209.9" text-anchor="middle" class="tl">5</text>
<line x1="419.52" y1="194.5" x2="419.52" y2="197.9" stroke="#555555" stroke-width="1.15"/>
<text x="419.52" y="209.9" text-anchor="middle" class="tl">6</text>
<line x1="439.08" y1="194.5" x2="439.08" y2="197.9" stroke="#555555" stroke-width="1.15"/>
<text x="439.08" y="209.9" text-anchor="middle" class="tl">7</text>
<line x1="458.65" y1="194.5" x2="458.65" y2="197.9" stroke="#555555" stroke-width="1.15"/>
<text x="458.65" y="209.9" text-anchor="middle" class="tl">8</text>
<line x1="478.22" y1="194.5" x2="478.22" y2="197.9" stroke="#555555" stroke-width="1.15"/>
<text x="478.22" y="209.9" text-anchor="middle" class="tl">9</text>
<line x1="497.78" y1="194.5" x2="497.78" y2="197.9" stroke="#555555" stroke-width="1.15"/>
<text x="497.78" y="209.9" text-anchor="middle" class="tl">10</text>
<line x1="517.35" y1="194.5" x2="517.35" y2="197.9" stroke="#555555" stroke-width="1.15"/>
<text x="517.35" y="209.9" text-anchor="middle" class="tl">11</text>
<line x1="536.92" y1="194.5" x2="536.92" y2="197.9" stroke="#555555" stroke-width="1.15"/>
<text x="536.92" y="209.9" text-anchor="middle" class="tl">12</text>
<text x="429.3" y="225.5" text-anchor="middle" class="ti" textLength="90.6" lengthAdjust="spacingAndGlyphs">Combination Number</text>
<text x="417.8" y="242.4" text-anchor="middle" class="sub">(b)</text>
<text transform="translate(291.8,101) rotate(-90)" text-anchor="middle" class="ti">Ankle Correlation Coefficient</text>
<rect x="463.7" y="145.4" width="83" height="49.1" fill="#fff" stroke="#8a8a8a" stroke-width="0.8"/>
<rect x="465.1" y="147.1" width="14.5" height="6.6" fill="#dcc6f7" stroke="#ba88ee" stroke-width="1"/>
<rect x="465.1" y="155.1" width="14.5" height="6.6" fill="#bfe6cc" stroke="#4bb879" stroke-width="1"/>
<line x1="472.4" y1="163.4" x2="472.4" y2="169.4" stroke="#ba88ee" stroke-width="1"/>
<line x1="470.9" y1="163.4" x2="473.9" y2="163.4" stroke="#ba88ee" stroke-width="1"/>
<line x1="470.9" y1="169.4" x2="473.9" y2="169.4" stroke="#ba88ee" stroke-width="1"/>
<line x1="467.9" y1="174.4" x2="476.9" y2="174.4" stroke="#ff2a2a" stroke-width="1"/>
<circle cx="472.4" cy="182.4" r="1.2" fill="none" stroke="#c9a6f2" stroke-width="0.6"/>
<polygon points="472.4,188.95 473.85,190.4 472.4,191.85 470.95,190.4" fill="#a95ff0"/>
<text x="481.6" y="152.7" class="lg" textLength="63.5" lengthAdjust="spacingAndGlyphs">BP+PHASE(25%~75%)</text>
<text x="483.1" y="160.7" class="lg" textLength="40.5" lengthAdjust="spacingAndGlyphs">BP(25%~75%)</text>
<text x="482.1" y="168.7" class="lg" textLength="18" lengthAdjust="spacingAndGlyphs">1.5IQR</text>
<text x="480.1" y="176.7" class="lg" textLength="19.5" lengthAdjust="spacingAndGlyphs">Median</text>
<text x="481.6" y="184.7" class="lg" font-style="italic" textLength="21.5" lengthAdjust="spacingAndGlyphs">Average</text>
<text x="480.1" y="192.7" class="lg" textLength="18.5" lengthAdjust="spacingAndGlyphs">Outlier</text>
<rect x="31.9" y="3.7" width="239.1" height="190.8" fill="none" stroke="#6c6c6c" stroke-width="1.4"/>
<rect x="311.9" y="7.5" width="234.8" height="187" fill="none" stroke="#6c6c6c" stroke-width="1.4"/>
</svg>
</body></html>
